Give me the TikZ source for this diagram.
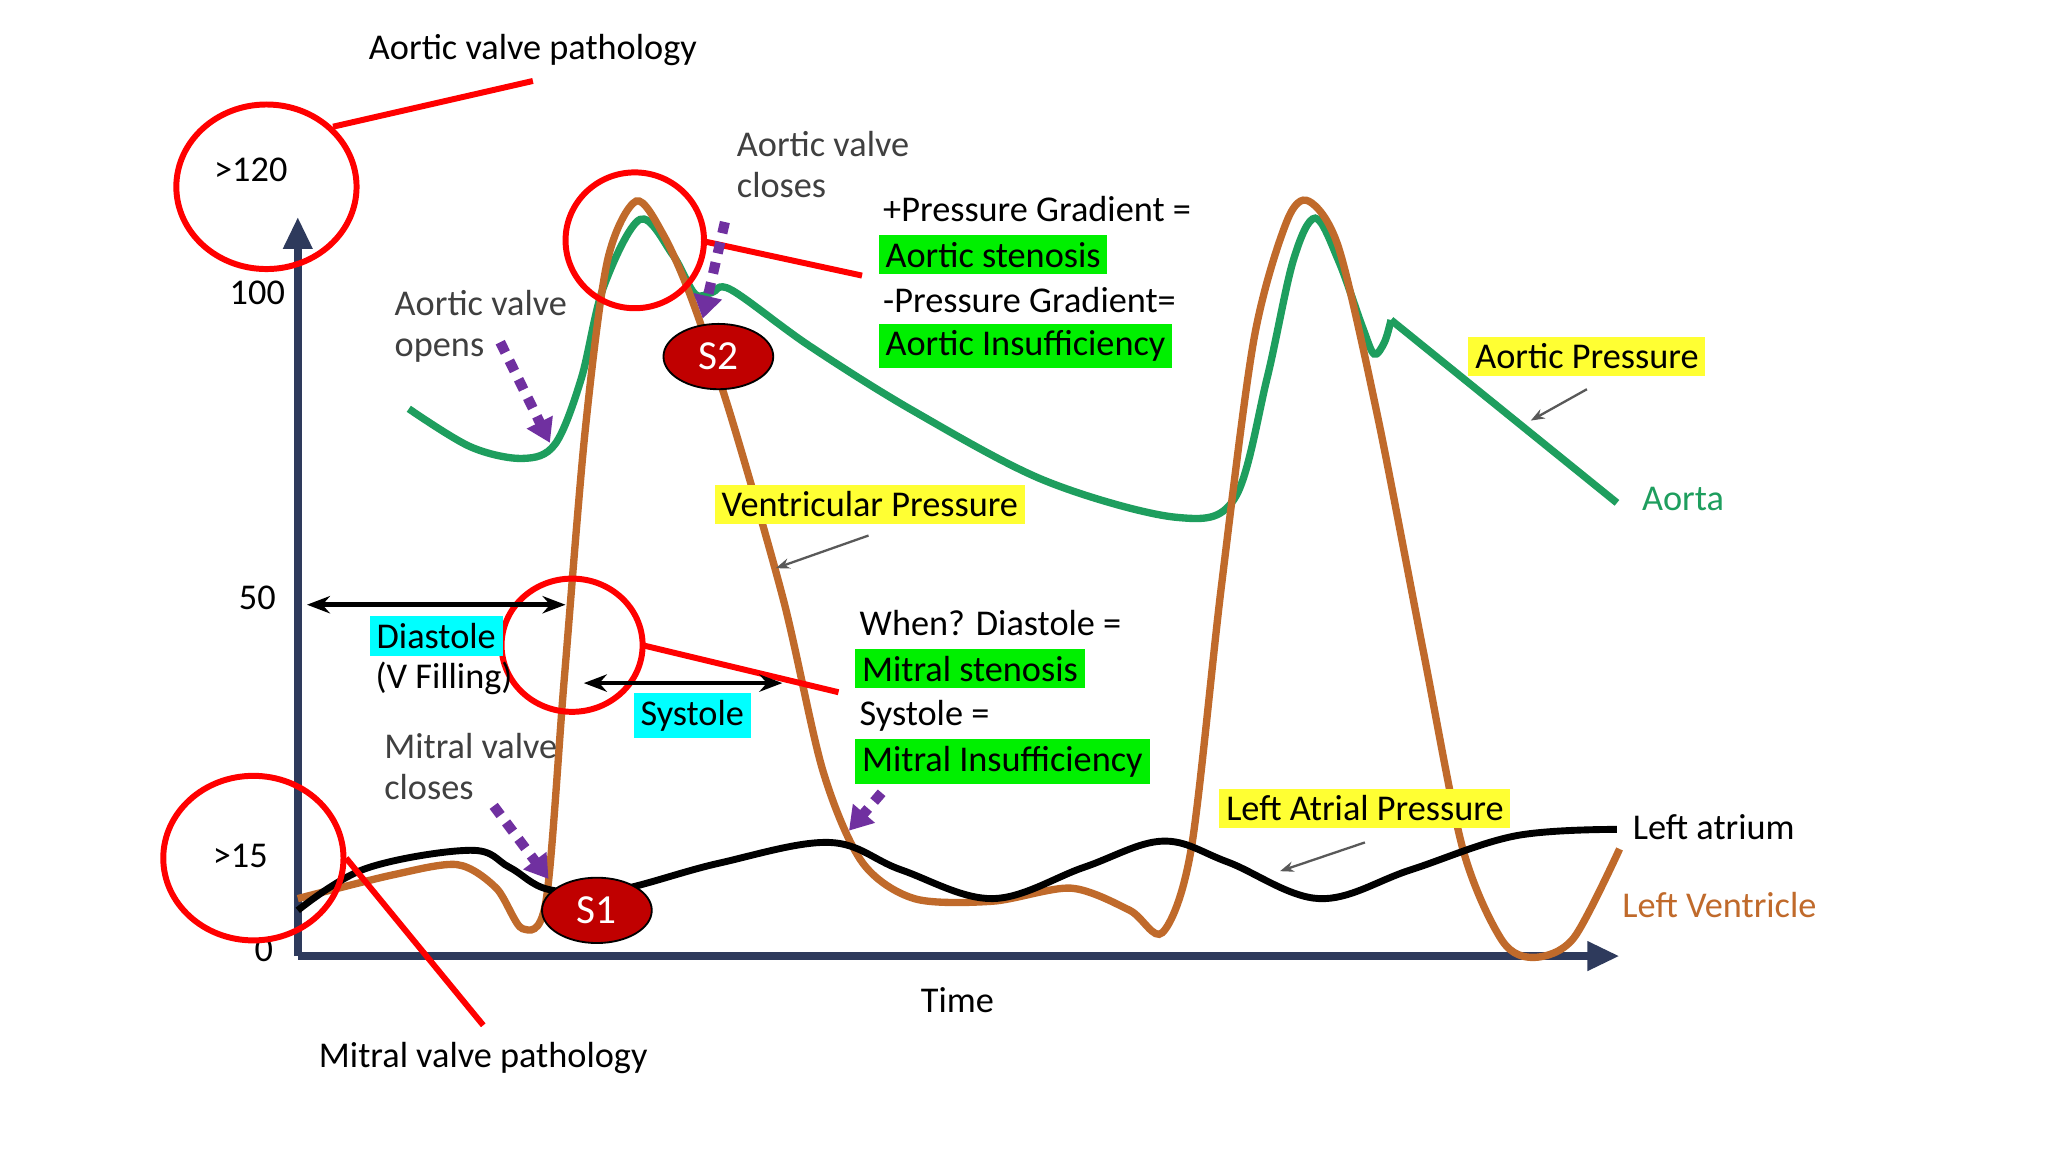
\documentclass[tikz,border=0pt]{standalone}
\usepackage{fontspec}
\setmainfont{Carlito}
\usetikzlibrary{arrows.meta,shapes.geometric}
\definecolor{aortag}{HTML}{1E9E5E}
\definecolor{lvb}{HTML}{C06A2B}
\definecolor{axisc}{HTML}{2E3A5C}
\definecolor{hlg}{HTML}{00F000}
\definecolor{hly}{HTML}{FFFF33}
\definecolor{hlc}{HTML}{00FFFF}
\definecolor{sred}{HTML}{C00000}
\definecolor{purp}{HTML}{7030A0}
\tikzset{
 txt/.style={font=\fontsize{7.9}{9.4}\selectfont, inner sep=1pt},
 gbox/.style={txt, fill=hlg, inner sep=1.5pt},
 ybox/.style={txt, fill=hly, inner sep=1.5pt},
 cbox/.style={txt, fill=hlc, inner sep=1.5pt},
 redc/.style={draw=red, line width=1.3pt},
 redl/.style={draw=red, line width=1.3pt},
 sbadge/.style={ellipse, draw=black, fill=sred, text=white, minimum width=0.84cm, minimum height=0.5cm, inner sep=0pt, font=\fontsize{9}{10}\selectfont},
 purar/.style={purp, line width=2.2pt, dash pattern=on 2.5pt off 2pt, -{Triangle[length=5pt,width=6pt]}},
 thinar/.style={gray!70!black, line width=0.5pt, -{Stealth[length=3pt]}},
 dbl/.style={black, line width=1pt, {Stealth[length=5pt]}-{Stealth[length=5pt]}},
}
\begin{document}
\begin{tikzpicture}[x=0.01cm,y=-0.01cm]
\useasboundingbox (0,0) rectangle (1568,882);
\fill[white] (0,0) rectangle (1568,882);
% axes
\coordinate (o) at (228,732);
\coordinate (yt) at (228,166);
\coordinate (xr) at (1240,732);
\draw[axisc, line width=1.8pt, -{Triangle[length=7pt,width=6pt]}] (o) -- (yt);
\draw[axisc, line width=1.8pt, -{Triangle[length=7pt,width=6pt]}] (o) -- (xr);
\node[txt] (l120) at (192,130) {>120};
\node[txt] (l100) at (197,224) {100};
\node[txt] (l50) at (197,458) {50};
\node[txt] (l0) at (202,727) {0};
\node[txt] (l15) at (184,655) {>15};
\node[txt] (time) at (733,766) {Time};
% curves
\draw[aortag, line width=1.6pt] plot[smooth, tension=0.55] coordinates {(313,313) (360,342) (400,351) (425,340) (445,290) (462,220) (490,168) (515,195) (532,225) (545,224) (560,222) (620,265) (700,315) (800,368) (900,396) (945,382) (970,290) (990,200) (1007,167) (1025,200) (1043,250) (1052,271) (1060,262) (1065,245)};
\draw[aortag, line width=1.6pt] (1065,245) -- (1238,385);
\draw[lvb, line width=1.6pt] plot[smooth, tension=0.5] coordinates {(228,688) (300,670) (350,662) (380,680) (400,711) (418,690) (432,520) (448,330) (465,200) (487,154) (508,180) (530,230) (560,320) (600,460) (630,590) (660,660) (700,688) (760,690) (820,680) (865,697) (890,714) (912,650) (935,450) (960,260) (985,170) (1002,154) (1025,190) (1055,320) (1090,500) (1120,650) (1150,720) (1175,733) (1205,718) (1240,650)};
\draw[black, line width=1.5pt] plot[smooth, tension=0.6] coordinates {(228,697) (280,665) (360,651) (390,664) (420,681) (470,682) (550,661) (635,645) (690,666) (760,688) (830,664) (890,644) (940,660) (1010,688) (1080,666) (1160,640) (1238,635)};
\node[txt, anchor=west] (aorta) at (1253,382) {\textcolor{aortag}{Aorta}};
\node[txt, anchor=west] (la) at (1246,633) {Left atrium};
\node[txt, anchor=west] (lv) at (1238,693) {\textcolor{lvb}{Left Ventricle}};
% red circles
\draw[redc] (204,143) ellipse [x radius=69, y radius=63];
\draw[redc] (486,184) ellipse [x radius=53, y radius=52];
\draw[redc] (438,494) ellipse [x radius=54, y radius=51];
\draw[redc] (194,657) ellipse [x radius=69, y radius=63];
\coordinate (r1a) at (255,97); \coordinate (r1b) at (408,62);
\coordinate (r2a) at (540,185); \coordinate (r2b) at (660,211);
\coordinate (r3a) at (492,494); \coordinate (r3b) at (642,530);
\coordinate (r4a) at (265,657); \coordinate (r4b) at (370,785);
\draw[redl] (r1a) -- (r1b);
\draw[redl] (r2a) -- (r2b);
\draw[redl] (r3a) -- (r3b);
\draw[redl] (r4a) -- (r4b);
\node[txt] (avp) at (408,38) {Aortic valve pathology};
\node[txt] (mvp) at (370,810) {Mitral valve pathology};
% badges
\node[sbadge] (s2) at (550,273) {S2};
\node[sbadge] (s1) at (457,697) {S1};
% valve labels
\node[txt, anchor=west, align=left, text=black!75] (avo) at (298,250) {Aortic valve\\[-0.5pt]opens};
\node[txt, anchor=west, align=left, text=black!75] (avc) at (560,126) {Aortic valve\\[-0.5pt]closes};
\node[txt, anchor=west, align=left, text=black!75] (mvc) at (290,587) {Mitral valve\\[-0.5pt]closes};
\coordinate (p1a) at (383,262); \coordinate (p1b) at (421,339);
\coordinate (p2a) at (555,170); \coordinate (p2b) at (538,244);
\coordinate (p3a) at (378,617); \coordinate (p3b) at (420,673);
\coordinate (p4a) at (675,607); \coordinate (p4b) at (650,636);
\draw[purar] (p1a) -- (p1b);
\draw[purar] (p2a) -- (p2b);
\draw[purar] (p3a) -- (p3b);
\draw[purar] (p4a) -- (p4b);
% right text blocks
\node[txt, anchor=west] (pg1) at (672,160) {+Pressure Gradient =};
\node[gbox, anchor=west] (as) at (672,195) {Aortic stenosis};
\node[txt, anchor=west] (pg2) at (672,230) {-Pressure Gradient=};
\node[gbox, anchor=west] (ai) at (672,265) {Aortic Insufficiency};
\node[txt, anchor=west] (wd) at (654,477) {When? Diastole =};
\node[gbox, anchor=west] (ms) at (654,512) {Mitral stenosis};
\node[txt, anchor=west] (sy) at (654,548) {Systole =};
\node[gbox, anchor=west] (mi) at (654,583) {Mitral Insufficiency};
% yellow labels
\node[ybox] (ap) at (1215,273) {Aortic Pressure};
\node[ybox] (vp) at (666,386) {Ventricular Pressure};
\node[ybox] (lap) at (1045,619) {Left Atrial Pressure};
\coordinate (a1a) at (1215,298); \coordinate (a1b) at (1172,322);
\coordinate (a2a) at (665,410); \coordinate (a2b) at (594,435);
\coordinate (a3a) at (1045,645); \coordinate (a3b) at (980,667);
\draw[thinar] (a1a) -- (a1b);
\draw[thinar] (a2a) -- (a2b);
\draw[thinar] (a3a) -- (a3b);
% diastole / systole
\node[cbox] (dia) at (334,487) {Diastole};
\node[txt] (vf) at (340,519) {(V Filling)};
\node[cbox] (sys) at (530,548) {Systole};
\coordinate (d1) at (235,463); \coordinate (d2) at (433,463);
\coordinate (e1) at (447,523); \coordinate (e2) at (599,523);
\draw[dbl] (d1) -- (d2);
\draw[dbl] (e1) -- (e2);
\end{tikzpicture}
\end{document}
